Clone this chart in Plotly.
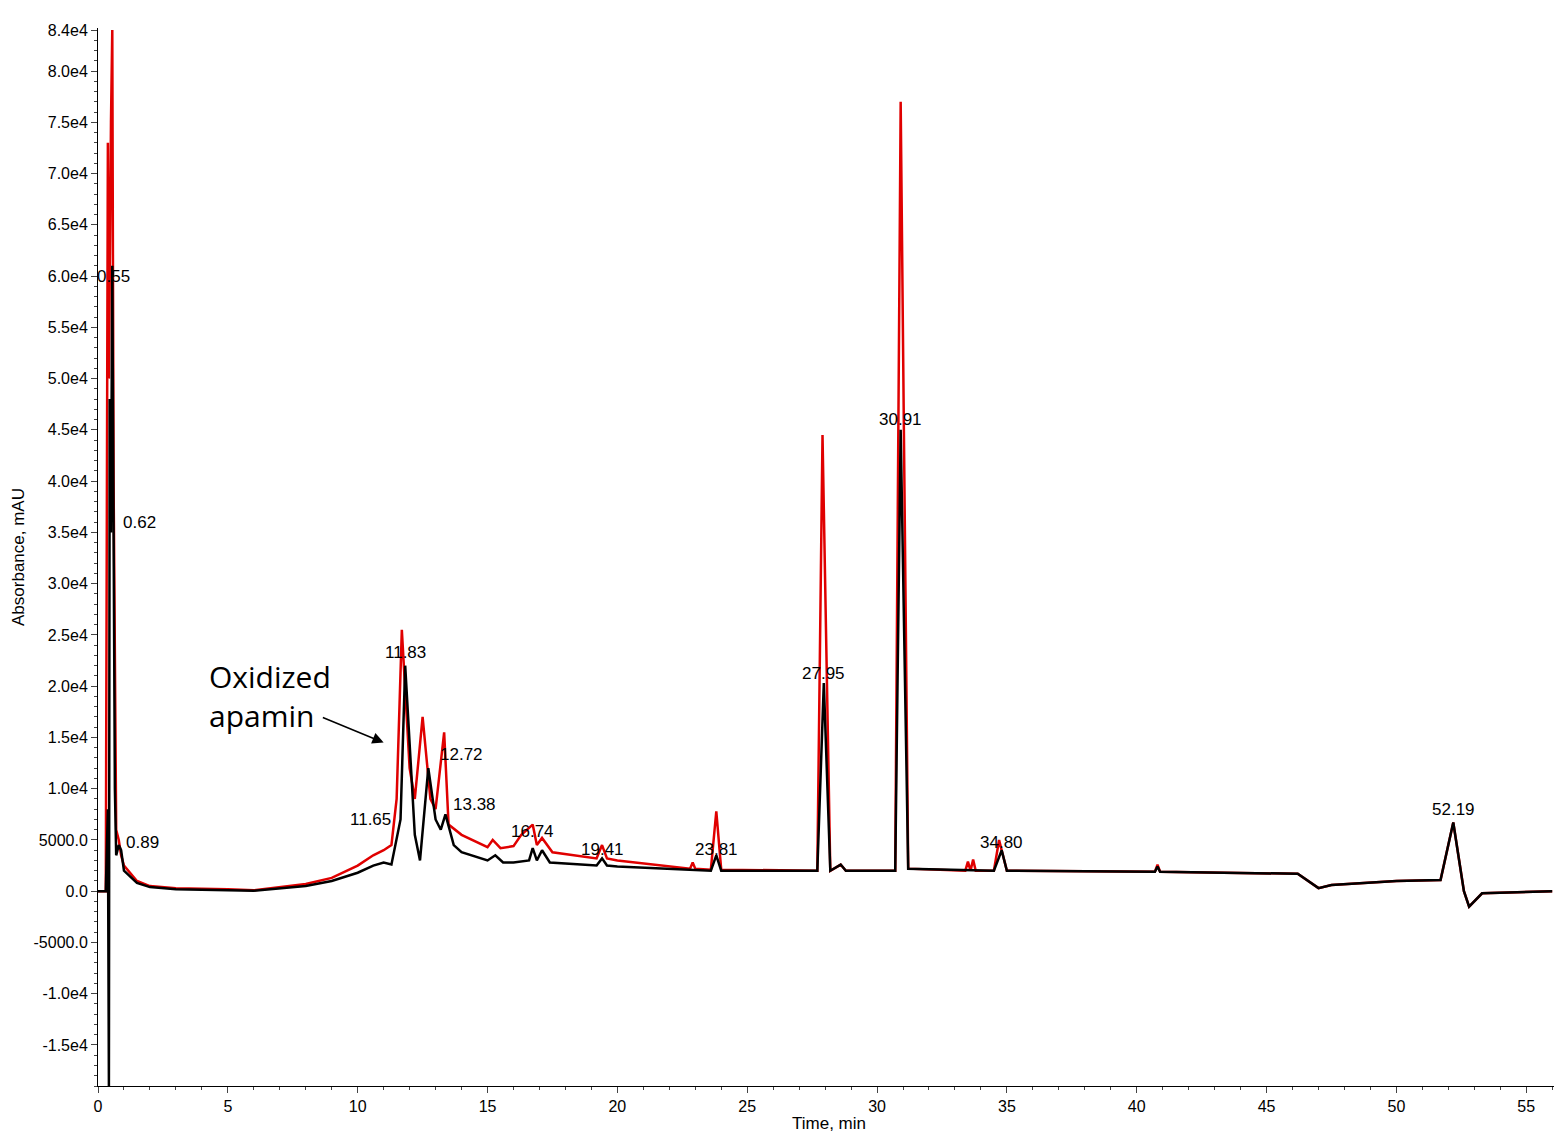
import plotly.graph_objects as go

# black trace (time, min / absorbance, mAU)
black_t = [0, 0.3, 0.38, 0.42, 0.45, 0.5, 0.55, 0.6, 0.65, 0.7, 0.8, 0.89, 1.0, 1.5, 2, 3, 5, 6, 8, 9, 10,
           10.6, 11, 11.3, 11.65, 11.83, 12.2, 12.4, 12.72, 13.0, 13.2, 13.38, 13.7, 14, 15, 15.3, 15.6, 16,
           16.6, 16.74, 16.9, 17.1, 17.4, 19.2, 19.41, 19.6, 20, 23.6, 23.81, 24.0, 27.7, 27.95, 28.2, 28.6,
           28.8, 30.7, 30.91, 31.2, 34.5, 34.8, 35.0, 40.7, 40.8, 40.9, 46.2, 47.0, 47.5, 50, 51.7, 52.19,
           52.6, 52.8, 53.3, 56]
black_y = [0, 0, 8000, -19000, 48000, 35000, 61000, 35000, 10000, 3500, 4500, 4000, 2000, 800, 400, 200, 100,
           50, 500, 1000, 1800, 2500, 2800, 2600, 7000, 22000, 5500, 3000, 12000, 7000, 6000, 7500, 4500, 3800,
           3000, 3500, 2800, 2800, 3000, 4200, 3000, 4000, 2800, 2500, 3200, 2500, 2400, 2000, 3500, 2000, 2000,
           20300, 2000, 2600, 2000, 2000, 45000, 2200, 2000, 4000, 2000, 1900, 2400, 1900, 1700, 300, 600, 1000,
           1100, 6700, 0, -1500, -200, 0]

# red trace
red_t = [0, 0.3, 0.38, 0.42, 0.5, 0.55, 0.6, 0.7, 0.8, 0.89, 1.0, 1.5, 2, 3, 5, 6, 8, 9, 10, 10.6, 11, 11.3,
         11.5, 11.7, 12.0, 12.2, 12.5, 12.8, 13.0, 13.33, 13.5, 14, 15, 15.2, 15.5, 16, 16.3, 16.74, 16.9,
         17.1, 17.5, 19.2, 19.41, 19.6, 20, 22.8, 22.9, 23.0, 23.6, 23.81, 24.0, 27.7, 27.9, 28.2, 28.6, 28.8,
         30.7, 30.91, 31.2, 33.4, 33.5, 33.6, 33.7, 33.8, 34.5, 34.7, 35.0, 40.7, 40.8, 40.9, 46.2, 47.0,
         47.5, 50, 51.7, 52.19, 52.6, 52.8, 53.3, 56]
red_y = [0, 0, 73000, 50000, 75000, 84000, 40000, 6000, 5000, 3500, 2500, 1000, 500, 300, 200, 100, 700,
         1300, 2500, 3500, 4000, 4500, 9000, 25500, 12000, 9000, 17000, 9000, 8000, 15500, 6500, 5500, 4300,
         5000, 4200, 4400, 5500, 6500, 4500, 5200, 3800, 3200, 4500, 3200, 3000, 2200, 2800, 2200, 2100,
         7800, 2100, 2000, 44500, 2000, 2600, 2000, 2000, 77000, 2200, 2000, 2900, 2000, 3100, 2000, 2000,
         5000, 2000, 1900, 2600, 1900, 1700, 300, 600, 1000, 1100, 6700, 0, -1500, -200, 0]

peak_t = [0.55, 0.62, 0.89, 11.65, 11.83, 12.72, 13.38, 16.74, 19.41, 23.81, 27.95, 30.91, 34.80, 52.19]
peak_lx = [0.6, 1.6, 1.7, 10.5, 11.83, 14.0, 14.5, 16.74, 19.41, 23.81, 27.95, 30.91, 34.80, 52.19]
peak_ly = [60000, 36000, 4800, 7000, 23300, 13300, 8500, 5800, 4100, 4100, 21200, 46000, 4800, 8000]

yticks = [84000, 80000, 75000, 70000, 65000, 60000, 55000, 50000, 45000, 40000, 35000, 30000, 25000,
          20000, 15000, 10000, 5000, 0, -5000, -10000, -15000]
ytext = ["8.4e4", "8.0e4", "7.5e4", "7.0e4", "6.5e4", "6.0e4", "5.5e4", "5.0e4", "4.5e4", "4.0e4",
         "3.5e4", "3.0e4", "2.5e4", "2.0e4", "1.5e4", "1.0e4", "5000.0", "0.0", "-5000.0", "-1.0e4", "-1.5e4"]

fig = go.Figure()
fig.add_trace(go.Scatter(x=red_t, y=red_y, mode="lines", line=dict(color="#e00000", width=2.5)))
fig.add_trace(go.Scatter(x=black_t, y=black_y, mode="lines", line=dict(color="black", width=2.5)))

for t, lx, ly in zip(peak_t, peak_lx, peak_ly):
    fig.add_annotation(x=lx, y=ly, text=f"{t:.2f}", showarrow=False,
                       font=dict(size=17, color="black", family="Liberation Sans"))

fig.add_annotation(x=11.0, y=14500, ax=8.6, ay=17000, axref="x", ayref="y", xref="x", yref="y",
                   text="", showarrow=True, arrowhead=2, arrowsize=1.5, arrowwidth=1.5, arrowcolor="black")
fig.add_annotation(x=4.2, y=19000, xanchor="left", text="Oxidized<br>apamin", showarrow=False, align="left",
                   font=dict(size=30, color="black", family="Open Sans"))

fig.update_layout(
    width=1562, height=1140, showlegend=False,
    plot_bgcolor="white", paper_bgcolor="white",
    margin=dict(l=90, r=10, t=20, b=62),
    font=dict(family="Liberation Sans", size=16, color="black"),
    xaxis=dict(range=[0, 56.3], tickvals=list(range(0, 56, 5)), ticks="outside", ticklen=6,
               minor=dict(dtick=1, ticks="outside", ticklen=3), showgrid=False, zeroline=False,
               showline=True, linecolor="black",
               title=dict(text="Time, min", standoff=2, font=dict(size=17))),
    yaxis=dict(range=[-19000, 84200], tickvals=yticks, ticktext=ytext, ticks="outside", ticklen=6,
               minor=dict(dtick=1000, ticks="outside", ticklen=3), showgrid=False, zeroline=False,
               showline=True, linecolor="black",
               title=dict(text="Absorbance, mAU", standoff=4, font=dict(size=17))),
)
fig.write_html("out.html")
